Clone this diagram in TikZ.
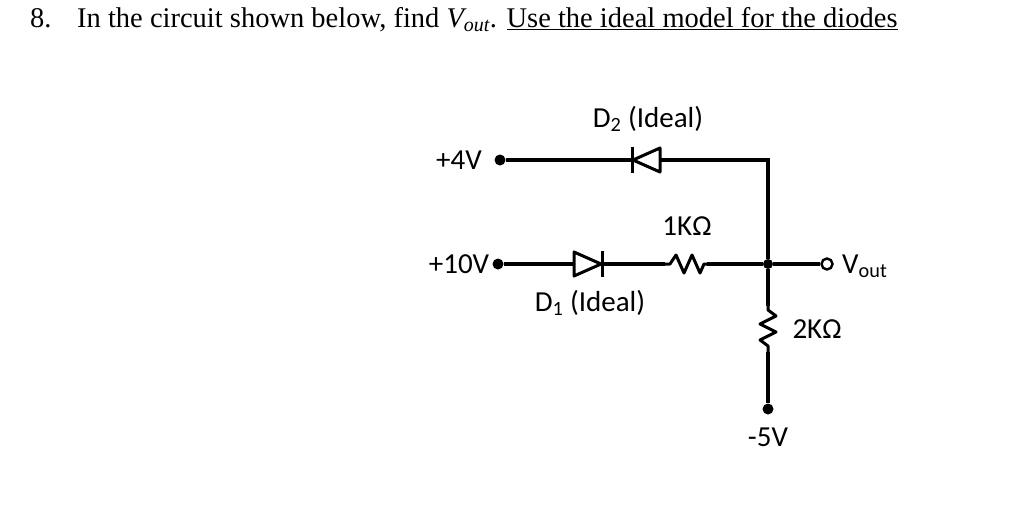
\documentclass[tikz,border=0pt]{standalone}
\usepackage{fontspec}
\setmainfont{Liberation Serif}
\newfontfamily\carl{Carlito}
\begin{document}
\begin{tikzpicture}[x=1pt,y=-1pt,
 wire/.style={line width=3.4pt},
 comp/.style={line width=3pt,line join=round},
 dot/.style={circle,fill,inner sep=0pt,minimum size=11pt},
 odot/.style={circle,draw,fill=white,line width=2.4pt,inner sep=0pt,minimum size=11pt},
 lab/.style={font=\carl\fontsize{29}{32}\selectfont,inner sep=0pt}]
\useasboundingbox (0,0) rectangle (1024,530);
\node[anchor=west,inner sep=0pt,font=\fontsize{28.5}{32}\selectfont] (title) at (30,20) {8.\hspace{0.9em}In the circuit shown below, find \textit{V\textsubscript{out}}. \underline{Use the ideal model for the diodes}};
% nodes
\node[dot] (p4) at (500,160) {};
\node[dot] (p10) at (498,264) {};
\coordinate (tr) at (768,160);
\node[dot,minimum size=10pt] (j) at (768,264) {};
\node[odot] (vo) at (827,264) {};
\node[dot] (m5) at (768,409) {};
% D2 (pointing left)
\coordinate (d2k) at (632,160); \coordinate (d2a) at (660,160);
\draw[wire] (p4) -- (d2k); \draw[wire] (d2a) -- (tr) -- (j);
\draw[comp] (632,147) -- (632,173);
\draw[comp] (660,148) -- (633,160) -- (660,172) -- cycle;
% D1 (pointing right)
\coordinate (d1a) at (574,264); \coordinate (d1k) at (602,264);
\draw[wire] (p10) -- (d1a);
\draw[comp] (574,252) -- (601,264) -- (574,276) -- cycle;
\draw[comp] (602,251) -- (602,277);
% R1
\coordinate (r1a) at (665,264); \coordinate (r1b) at (707,264);
\draw[wire] (d1k) -- (r1a);
\draw[comp] (r1a) -- (670,264) -- (676,255) -- (684,273) -- (692,255) -- (700,273) -- (704,264) -- (r1b);
\draw[wire] (r1b) -- (j) -- (vo);
% R2
\coordinate (r2a) at (768,306); \coordinate (r2b) at (768,352);
\draw[wire] (j) -- (r2a);
\draw[comp] (r2a) -- (768,310) -- (776,316) -- (760,324) -- (776,332) -- (760,340) -- (768,346) -- (r2b);
\draw[wire] (r2b) -- (m5);
% labels
\node[lab] (l4) at (459,160) {+4V};
\node[lab] (l10) at (459,264) {+10V};
\node[lab] (ld2) at (648,119) {D\textsubscript{2} (Ideal)};
\node[lab] (ld1) at (590,303) {D\textsubscript{1} (Ideal)};
\node[lab] (lr1) at (687,226) {1KΩ};
\node[lab] (lr2) at (817,329) {2KΩ};
\node[lab] (l5) at (768,437) {-5V};
\node[lab,anchor=west] (lvo) at (842,266) {V\textsubscript{out}};
\end{tikzpicture}
\end{document}
